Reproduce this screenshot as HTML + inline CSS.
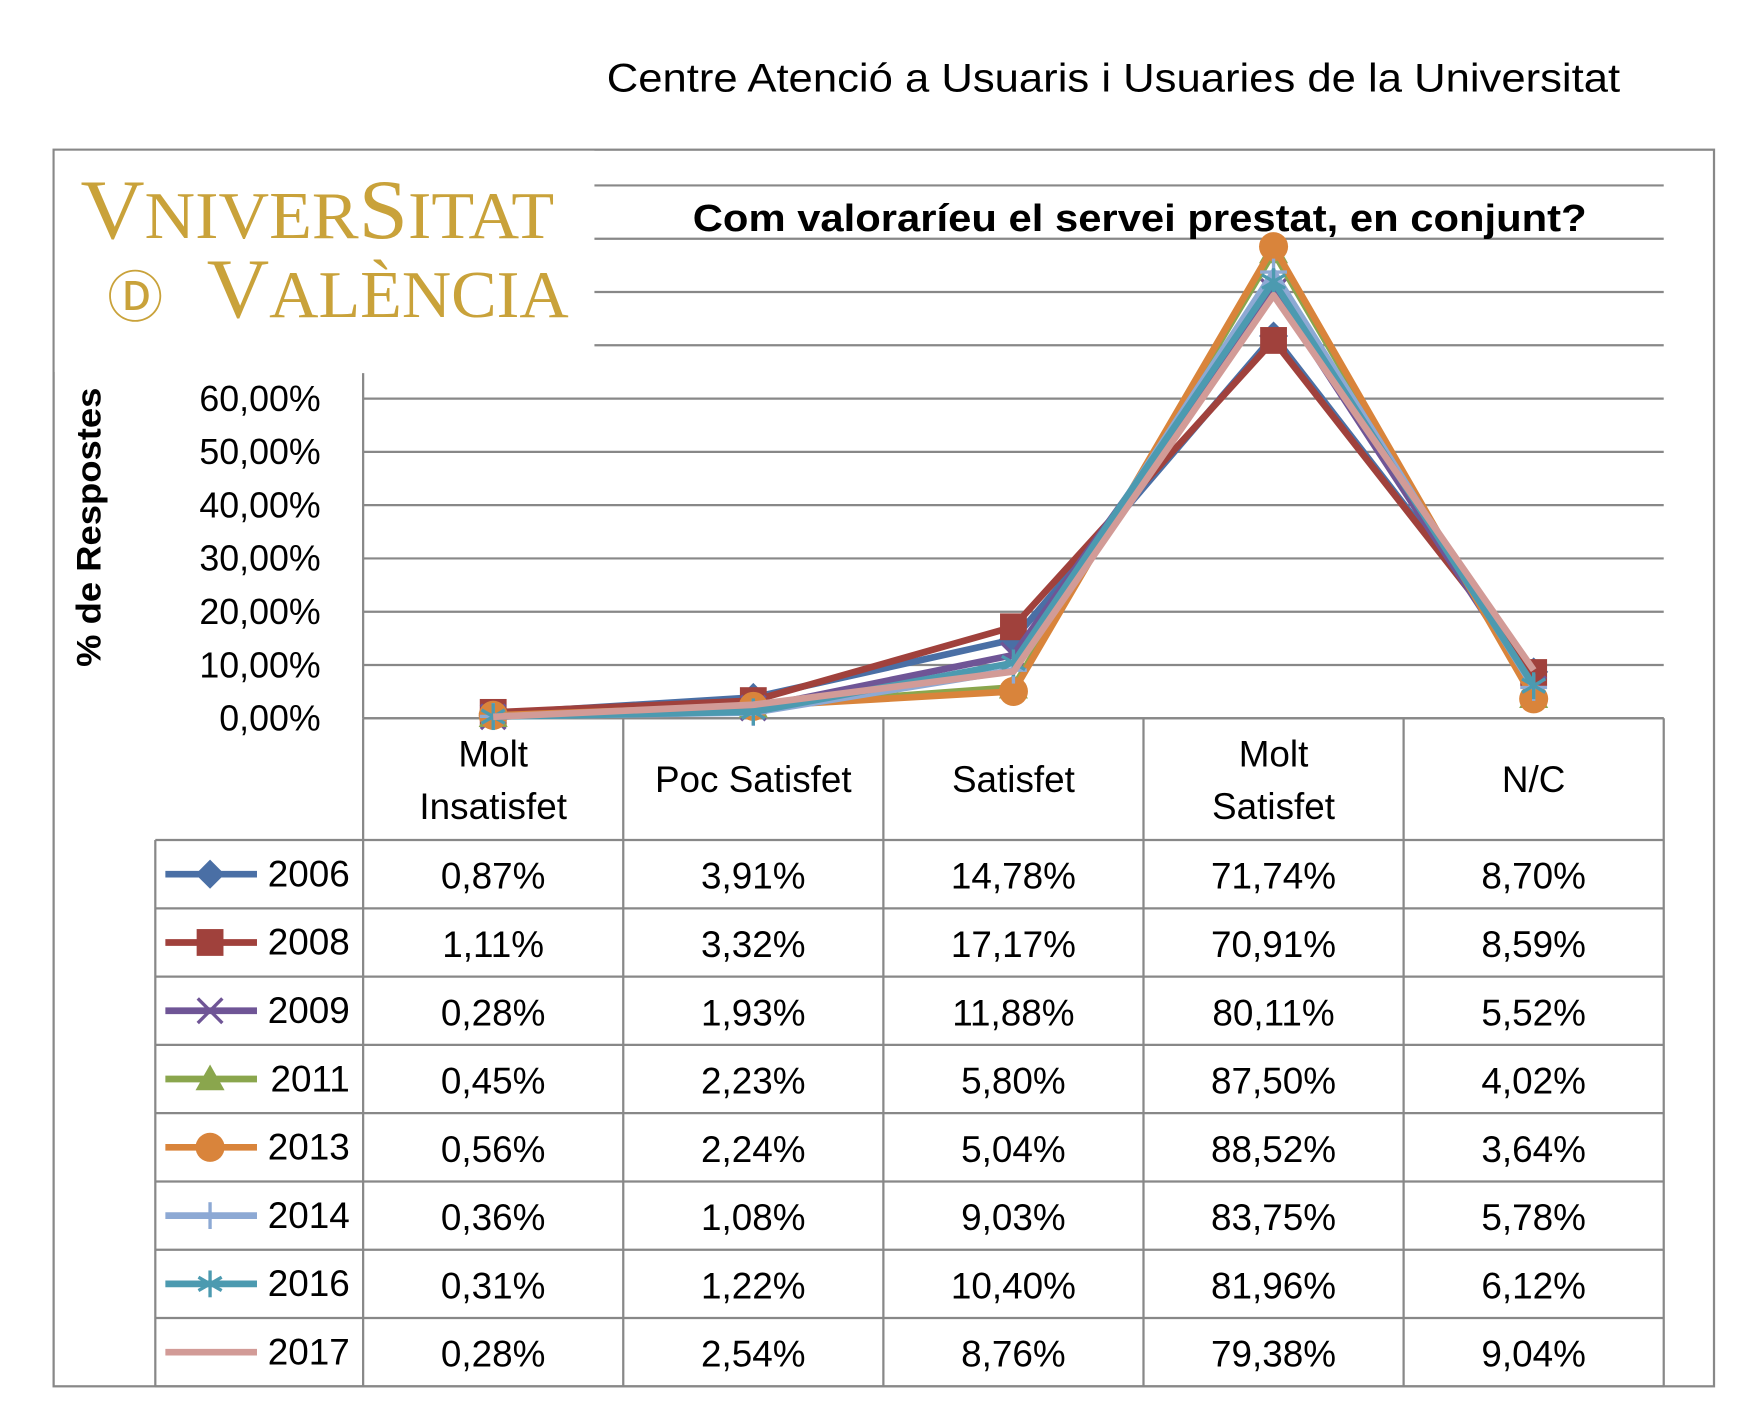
<!DOCTYPE html>
<html><head><meta charset="utf-8"><style>
html,body{margin:0;padding:0;background:#fff;}
svg{display:block;}
</style></head><body>
<svg id="chart" width="1752" height="1412" viewBox="0 0 1568 1264" preserveAspectRatio="none" xmlns="http://www.w3.org/2000/svg" font-family="Liberation Sans, DejaVu Sans, sans-serif">
<rect x="0" y="0" width="1568" height="1264" fill="#fff"/>
<text x="543" y="82" font-size="36" textLength="907" lengthAdjust="spacingAndGlyphs" fill="#000">Centre Atenció a Usuaris i Usuaries de la Universitat</text>
<rect x="48" y="134" width="1486" height="1107" fill="none" stroke="#888" stroke-width="2"/>
<g id="grid"></g>
<rect x="49" y="135" width="483" height="198" fill="#fff"/>
<g fill="#c9a23a" font-family="Liberation Serif, serif">
<text x="72" y="213" font-size="76" textLength="424" lengthAdjust="spacingAndGlyphs">V<tspan font-size="60">NIVER</tspan>S<tspan font-size="60">ITAT</tspan></text>
<text x="96" y="284" font-size="50">Ⓓ</text>
<text x="185" y="284" font-size="76" textLength="324" lengthAdjust="spacingAndGlyphs">V<tspan font-size="60">ALÈNCIA</tspan></text>
</g>
<text x="620" y="207" font-size="34" font-weight="bold" textLength="800" lengthAdjust="spacingAndGlyphs" fill="#000">Com valoraríeu el servei prestat, en conjunt?</text>
<text transform="translate(90,472) rotate(-90)" font-size="31" font-weight="bold" text-anchor="middle" textLength="250" lengthAdjust="spacingAndGlyphs" fill="#000">% de Respostes</text>
<g id="yticks"></g>
<g id="table"></g>
<g id="series"></g>
</svg>
<script>
const categories = ["Molt Insatisfet","Poc Satisfet","Satisfet","Molt Satisfet","N/C"];
const years = ["2006","2008","2009","2011","2013","2014","2016","2017"];
const v2006 = [0.87,3.91,14.78,71.74,8.70];
const v2008 = [1.11,3.32,17.17,70.91,8.59];
const v2009 = [0.28,1.93,11.88,80.11,5.52];
const v2011 = [0.45,2.23,5.80,87.50,4.02];
const v2013 = [0.56,2.24,5.04,88.52,3.64];
const v2014 = [0.36,1.08,9.03,83.75,5.78];
const v2016 = [0.31,1.22,10.40,81.96,6.12];
const v2017 = [0.28,2.54,8.76,79.38,9.04];
const yTicks = [0,10,20,30,40,50,60];
const seriesValues = [v2006,v2008,v2009,v2011,v2013,v2014,v2016,v2017];
const colors = ["#4a6fa5","#a0413c","#6f5596","#8aa64d","#d9843b","#8da9d4","#4c9ab0","#d29b97"];
const markers = ["diamond","square","x","triangle","circle","plus","star","none"];

const NS="http://www.w3.org/2000/svg";
const X0=325, X1=1489, Y0=643, Ytop=166;
const colW=(X1-X0)/categories.length;
const x = i => X0 + colW*(i+0.5);
const y = v => Y0 - (Y0-Ytop)*v/100;
function mk(tag, attrs, parent){const e=document.createElementNS(NS,tag);for(const k in attrs)e.setAttribute(k,attrs[k]);parent.appendChild(e);return e;}
const fmt = v => v.toFixed(2).replace('.',',')+'%';

const grid=document.getElementById('grid');
for(let g=0; g<=100; g+=10){
  const l=mk('line',{x1:X0,x2:X1,y1:y(g),y2:y(g),stroke:'#888','stroke-width':2},grid);
  
  
}
const ax=mk('line',{x1:X0,x2:X0,y1:334,y2:Y0,stroke:'#888','stroke-width':2},grid);



const yt=document.getElementById('yticks');
yTicks.forEach(t=>{
  const e=mk('text',{x:287,y:y(t)+11,'font-size':32,'text-anchor':'end',fill:'#000'},yt);
  e.textContent=t.toFixed(2).replace('.',',')+'%';
  
  
});

const tb=document.getElementById('table');
const rowTop=752, rowH=(1241-752)/years.length;
const st={stroke:'#888','stroke-width':2};
mk('line',Object.assign({x1:X0,x2:X1,y1:Y0,y2:Y0},st),tb);
for(let i=0;i<=categories.length;i++) mk('line',Object.assign({x1:X0+colW*i,x2:X0+colW*i,y1:Y0,y2:1241},st),tb);
mk('line',Object.assign({x1:139,x2:139,y1:rowTop,y2:1241},st),tb);
for(let r=0;r<=years.length;r++) mk('line',Object.assign({x1:139,x2:X1,y1:rowTop+rowH*r,y2:rowTop+rowH*r},st),tb);
categories.forEach((c,i)=>{
  const words=c.split(' ');
  const t=mk('text',{x:x(i),'font-size':33,'text-anchor':'middle',fill:'#000'},tb);
  
  
  if(words.length===1 || c==="Poc Satisfet"){t.setAttribute('y',709);t.textContent=c;}
  else{
    const a=mk('tspan',{x:x(i),y:686},t);a.textContent=words[0];
    const b=mk('tspan',{x:x(i),y:733},t);b.textContent=words.slice(1).join(' ');
  }
});

function marker(type,cx,cy,col,g,s){
  s=s||1;
  if(type==='diamond') mk('polygon',{points:`${cx},${cy-13*s} ${cx+13*s},${cy} ${cx},${cy+13*s} ${cx-13*s},${cy}`,fill:col},g);
  else if(type==='square') mk('rect',{x:cx-12*s,y:cy-12*s,width:24*s,height:24*s,fill:col},g);
  else if(type==='x'){mk('line',{x1:cx-11*s,y1:cy-11*s,x2:cx+11*s,y2:cy+11*s,stroke:col,'stroke-width':3},g);mk('line',{x1:cx-11*s,y1:cy+11*s,x2:cx+11*s,y2:cy-11*s,stroke:col,'stroke-width':3},g);}
  else if(type==='triangle') mk('polygon',{points:`${cx},${cy-13*s} ${cx+13*s},${cy+10*s} ${cx-13*s},${cy+10*s}`,fill:col},g);
  else if(type==='circle') mk('circle',{cx:cx,cy:cy,r:13*s,fill:col},g);
  else if(type==='plus'){mk('line',{x1:cx-12*s,y1:cy,x2:cx+12*s,y2:cy,stroke:col,'stroke-width':3},g);mk('line',{x1:cx,y1:cy-12*s,x2:cx,y2:cy+12*s,stroke:col,'stroke-width':3},g);}
  else if(type==='star'){for(let a=0;a<3;a++){const an=a*Math.PI/3+Math.PI/2;mk('line',{x1:cx-12*s*Math.cos(an),y1:cy-12*s*Math.sin(an),x2:cx+12*s*Math.cos(an),y2:cy+12*s*Math.sin(an),stroke:col,'stroke-width':3},g);}}
}

years.forEach((yr,r)=>{
  const cy=rowTop+rowH*(r+0.5);
  const lg=mk('g',{},tb);
  
  
  mk('line',{x1:148,x2:230,y1:cy,y2:cy,stroke:colors[r],'stroke-width':6},lg);
  marker(markers[r],188,cy,colors[r],lg);
  const t=mk('text',{x:313,y:cy+11,'font-size':33,'text-anchor':'end',fill:'#000'},lg);
  t.textContent=yr;
  seriesValues[r].forEach((v,i)=>{
    const c=mk('text',{x:x(i),y:cy+13,'font-size':33,'text-anchor':'middle',fill:'#000'},tb);
    c.textContent=fmt(v);
    
    
  });
});

const sg=document.getElementById('series');
seriesValues.forEach((vals,s)=>{
  const g=mk('g',{},sg);
  
  
  const pts=vals.map((v,i)=>x(i)+','+y(v)).join(' ');
  mk('polyline',{points:pts,fill:'none',stroke:colors[s],'stroke-width':6,'stroke-linejoin':'round'},g);
  vals.forEach((v,i)=>marker(markers[s],x(i),y(v),colors[s],g));
});
</script>
</body></html>
